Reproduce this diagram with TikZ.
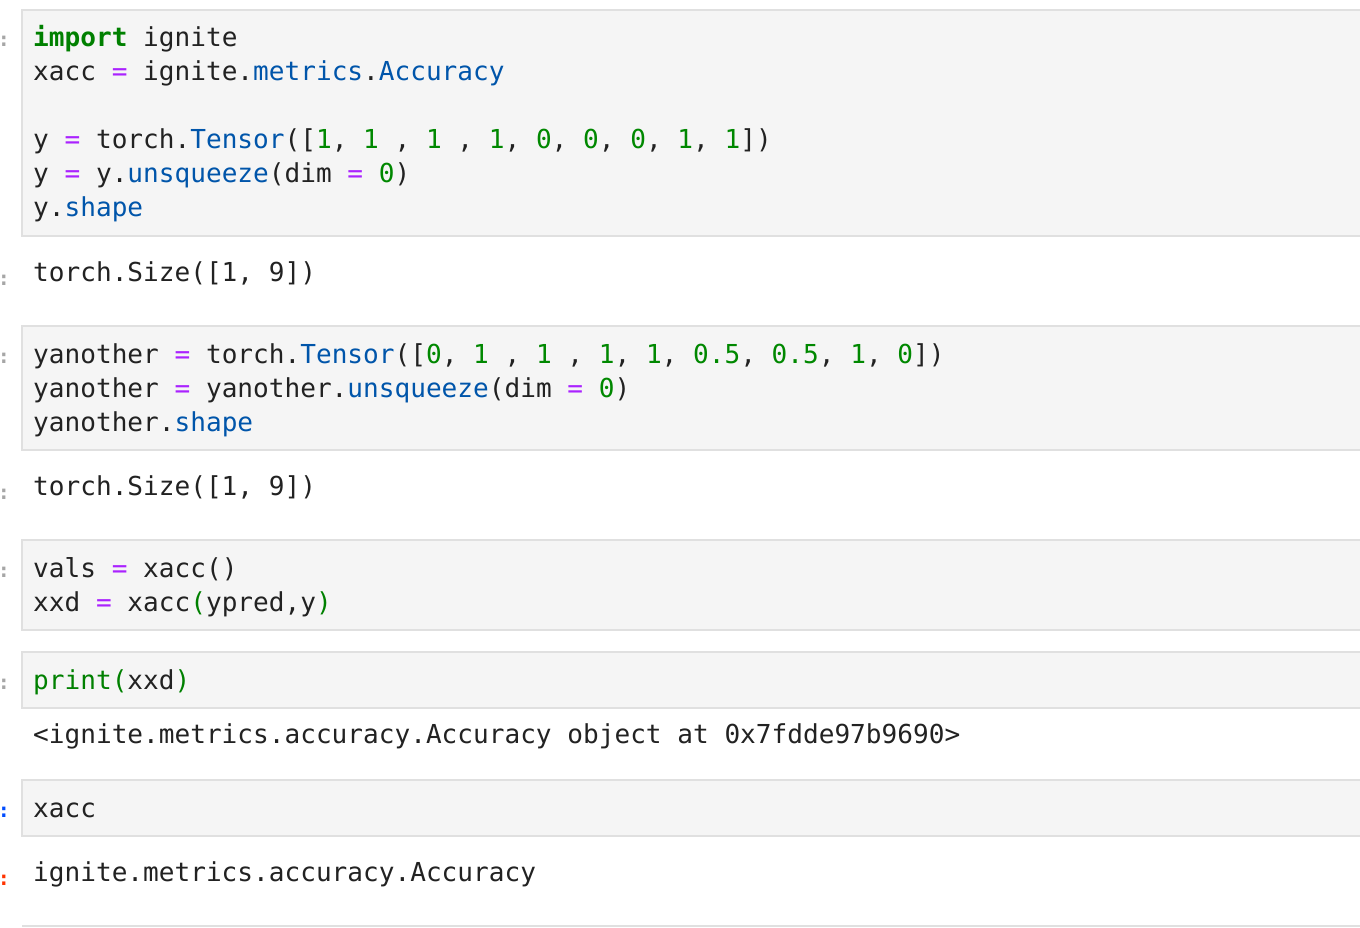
\documentclass[tikz,border=0pt]{standalone}
\usepackage{fontspec}
\setmonofont{DejaVu Sans Mono}
\definecolor{cellbg}{HTML}{F5F5F5}
\definecolor{cellbd}{HTML}{E0E0E0}
\definecolor{txt}{HTML}{222222}
\definecolor{kwc}{HTML}{008000}
\definecolor{opc}{HTML}{AA22FF}
\definecolor{atc}{HTML}{0055AA}
\definecolor{nmc}{HTML}{008800}
\newcommand{\kw}[1]{\textcolor{kwc}{\bfseries #1}}
\newcommand{\op}[1]{\textcolor{opc}{#1}}
\newcommand{\at}[1]{\textcolor{atc}{#1}}
\newcommand{\nm}[1]{\textcolor{nmc}{#1}}
\newcommand{\gr}[1]{\textcolor{kwc}{#1}}
\begin{document}
\begin{tikzpicture}[x=1pt,y=-1pt,
  cell/.style={fill=cellbg,draw=cellbd,line width=1.2pt},
  code/.style={anchor=base west,inner sep=0pt,text=txt,font=\ttfamily\fontsize{26.1}{30}\selectfont},
  prompt/.style={anchor=base,inner sep=0pt,font=\ttfamily\bfseries\fontsize{20}{24}\selectfont}]
\useasboundingbox (0,0) rectangle (1360,928);
\fill[white] (0,0) rectangle (1360,928);
\draw[cell] (22,10) rectangle (1370,236);
\draw[cell] (22,326) rectangle (1370,450);
\draw[cell] (22,540) rectangle (1370,630);
\draw[cell] (22,652) rectangle (1370,708);
\draw[cell] (22,780) rectangle (1370,836);
\draw[cellbd,line width=1.2pt] (22,926) -- (1370,926);
% prompts
\node[prompt,text=gray!70] (p1) at (4,47) {:};
\node[prompt,text=gray!70] (p2) at (4,285) {:};
\node[prompt,text=gray!70] (p3) at (4,363) {:};
\node[prompt,text=gray!70] (p4) at (4,499) {:};
\node[prompt,text=gray!70] (p5) at (4,577) {:};
\node[prompt,text=gray!70] (p6) at (4,689) {:};
\node[prompt,text=blue!70!cyan] (p7) at (4,817) {:};
\node[prompt,text=red!60!orange] (p8) at (4,885) {:};
% code
\node[code] (l1) at (33,47) {\kw{import} ignite};
\node[code] (l2) at (33,81) {xacc \op{=} ignite.\at{metrics}.\at{Accuracy}};
\node[code] (l3) at (33,149) {y \op{=} torch.\at{Tensor}([\nm{1}, \nm{1} , \nm{1} , \nm{1}, \nm{0}, \nm{0}, \nm{0}, \nm{1}, \nm{1}])};
\node[code] (l4) at (33,183) {y \op{=} y.\at{unsqueeze}(dim \op{=} \nm{0})};
\node[code] (l5) at (33,217) {y.\at{shape}};
\node[code] (o1) at (33,281) {torch.Size([1, 9])};
\node[code] (l6) at (33,363) {yanother \op{=} torch.\at{Tensor}([\nm{0}, \nm{1} , \nm{1} , \nm{1}, \nm{1}, \nm{0.5}, \nm{0.5}, \nm{1}, \nm{0}])};
\node[code] (l7) at (33,397) {yanother \op{=} yanother.\at{unsqueeze}(dim \op{=} \nm{0})};
\node[code] (l8) at (33,431) {yanother.\at{shape}};
\node[code] (o2) at (33,495) {torch.Size([1, 9])};
\node[code] (l9) at (33,577) {vals \op{=} xacc()};
\node[code] (l10) at (33,611) {xxd \op{=} xacc\gr{(}ypred,y\gr{)}};
\node[code] (l11) at (33,689) {\gr{print(}xxd\gr{)}};
\node[code] (o3) at (33,743) {<ignite.metrics.accuracy.Accuracy object at 0x7fdde97b9690>};
\node[code] (l12) at (33,817) {xacc};
\node[code] (o4) at (33,881) {ignite.metrics.accuracy.Accuracy};
\end{tikzpicture}
\end{document}
